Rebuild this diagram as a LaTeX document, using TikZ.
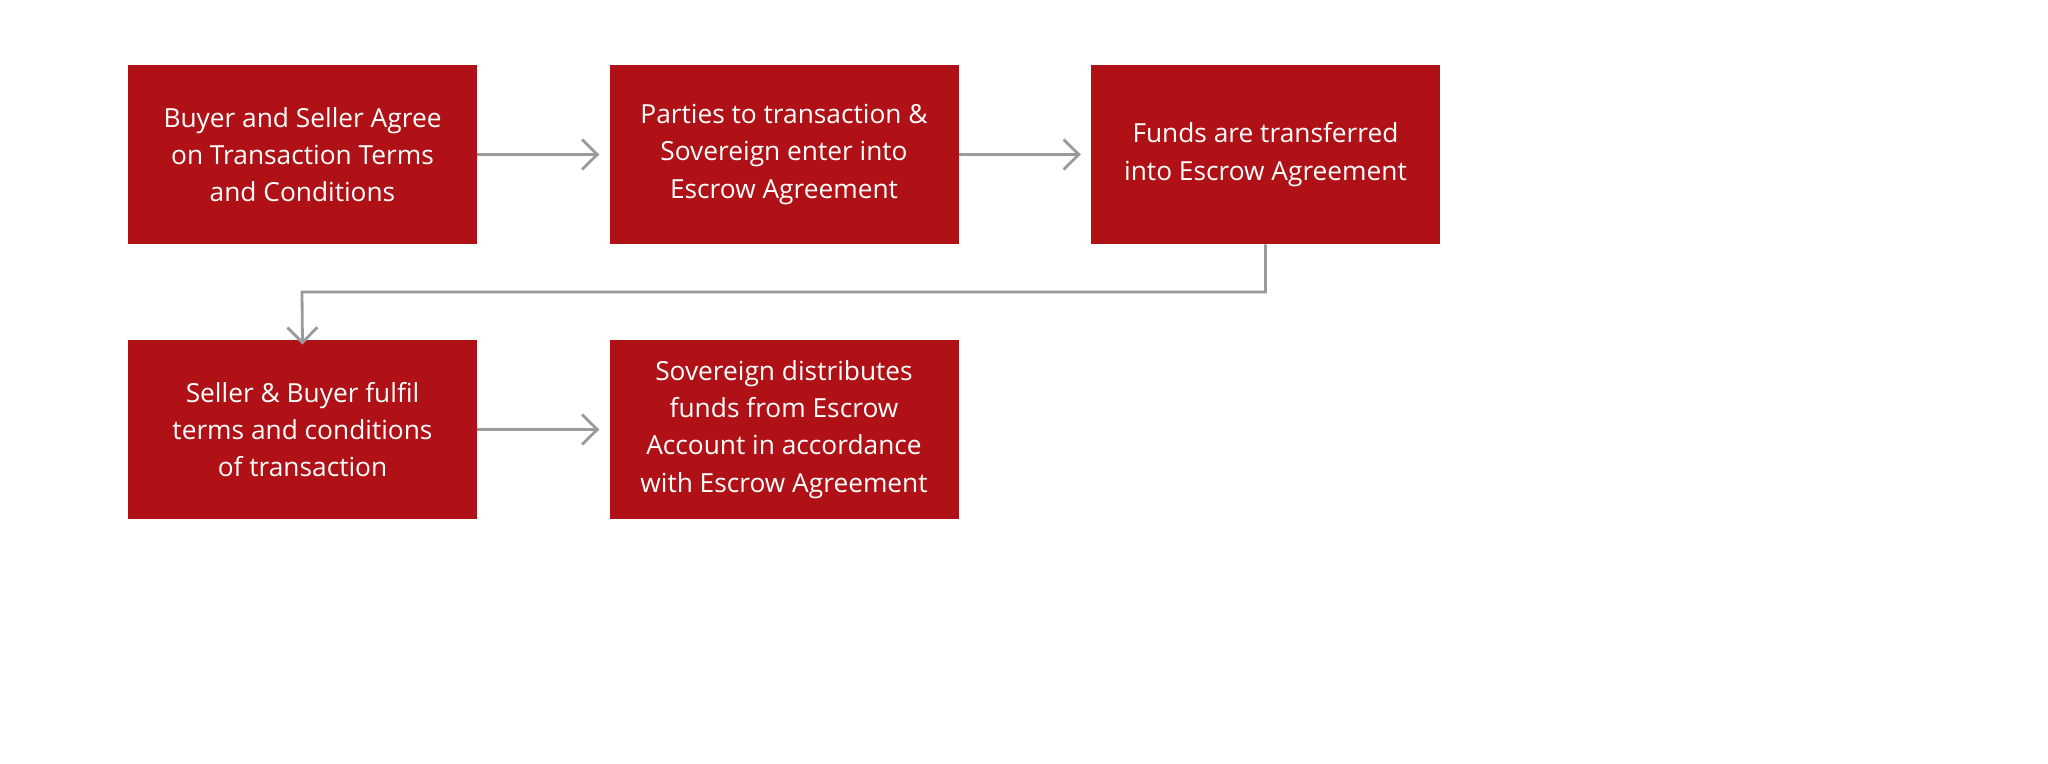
\documentclass[tikz,border=0pt]{standalone}
\usepackage{fontspec}
\setmainfont{Open Sans}
\usetikzlibrary{arrows.meta}
\definecolor{boxred}{HTML}{B01116}
\definecolor{arrgray}{HTML}{9A9A9A}
\tikzset{
  stepbox/.style={fill=boxred,text=white,minimum width=87.25mm,minimum height=44.75mm,inner sep=0pt,align=center,font=\fontsize{18.7}{26.5}\selectfont},
  conn/.style={draw=arrgray,line width=0.7mm,-{Straight Barb[length=3.8mm,width=7.5mm,line width=0.7mm]}}
}
\begin{document}
\begin{tikzpicture}[x=0.25mm,y=-0.25mm]
\useasboundingbox (0,0) rectangle (2048,763);
\node[stepbox] (a) at (302.5,154.5) {Buyer and Seller Agree\\on Transaction Terms\\and Conditions};
\node[stepbox] (b) at (784,154.5) {Parties to transaction \&\\Sovereign enter into\\Escrow Agreement};
\node[stepbox] (c) at (1265.5,154.5) {Funds are transferred\\into Escrow Agreement};
\node[stepbox] (d) at (302.5,429.5) {Seller \& Buyer fulfil\\terms and conditions\\of transaction};
\node[stepbox] (e) at (784,429.5) {Sovereign distributes\\funds from Escrow\\Account in accordance\\with Escrow Agreement};
\draw[conn] (a.east) -- ++(122,0);
\draw[conn] (b.east) -- ++(122,0);
\draw[conn] (c.south) |- (302,292) -- ([yshift=-1.2mm]d.north);
\draw[conn] (d.east) -- ++(122,0);
\end{tikzpicture}
\end{document}
